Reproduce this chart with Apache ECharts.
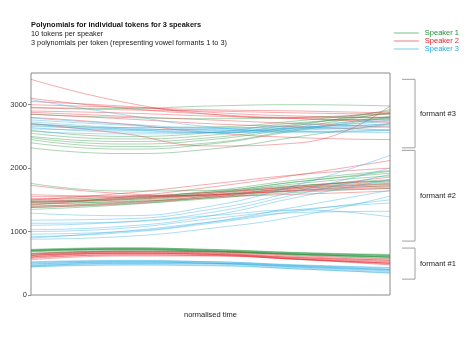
<!DOCTYPE html>
<html>
<head>
<meta charset="utf-8">
<script src="https://cdn.jsdelivr.net/npm/echarts@6/dist/echarts.min.js"></script>
<style>
  html, body { margin: 0; padding: 0; background: #fff; }
  #chart { width: 474px; height: 343px; }
</style>
</head>
<body>
<div id="chart"></div>
<script>
// Normalised time at which each token polynomial is sampled
const timePoints = [0, 0.25, 0.5, 0.75, 1];

const speakers = ['Speaker 1', 'Speaker 2', 'Speaker 3'];
const speakerColors = ['#25903a', '#e3262e', '#27a8e0'];

// Formant 1 (Hz), 10 tokens per speaker
const speaker1F1 = [
  [700, 730, 700, 650, 610], [690, 720, 690, 640, 600], [720, 745, 715, 665, 625],
  [680, 710, 690, 650, 620], [710, 725, 700, 640, 590], [655, 695, 680, 630, 575],
  [700, 720, 690, 640, 600], [690, 730, 710, 660, 630], [640, 690, 680, 640, 600],
  [710, 740, 720, 670, 640]
];
const speaker2F1 = [
  [620, 660, 650, 580, 520], [600, 650, 640, 570, 500], [645, 675, 665, 605, 545],
  [575, 635, 625, 565, 505], [620, 680, 660, 590, 530], [590, 630, 620, 560, 485],
  [655, 690, 680, 620, 565], [600, 660, 640, 560, 475], [555, 615, 615, 560, 500],
  [630, 660, 640, 590, 550]
];
const speaker3F1 = [
  [485, 520, 500, 440, 390], [460, 495, 485, 425, 365], [505, 535, 525, 465, 410],
  [445, 480, 470, 410, 350], [525, 545, 525, 475, 435], [470, 510, 500, 450, 400],
  [440, 470, 460, 410, 345], [490, 520, 500, 440, 380], [515, 535, 515, 455, 400],
  [455, 500, 500, 465, 425]
];

// Formant 2 (Hz)
const speaker1F2 = [
  [1760, 1640, 1650, 1790, 1950], [1460, 1500, 1600, 1760, 1880], [1430, 1480, 1580, 1720, 1820],
  [1400, 1450, 1560, 1700, 1780], [1480, 1520, 1640, 1820, 1960], [1350, 1420, 1540, 1680, 1750],
  [1500, 1540, 1620, 1730, 1800], [1440, 1470, 1530, 1620, 1680], [1380, 1430, 1520, 1650, 1720],
  [1470, 1510, 1620, 1790, 1920]
];
const speaker2F2 = [
  [1730, 1600, 1560, 1590, 1640], [1500, 1600, 1750, 1900, 2000], [1420, 1540, 1700, 1900, 2120],
  [1480, 1520, 1600, 1720, 1800], [1550, 1560, 1620, 1700, 1760], [1400, 1460, 1560, 1700, 1860],
  [1520, 1540, 1580, 1640, 1680], [1460, 1500, 1580, 1680, 1740], [1380, 1440, 1540, 1660, 1720],
  [1580, 1560, 1580, 1650, 1700]
];
const speaker3F2 = [
  [1290, 1250, 1400, 1750, 2200], [1180, 1200, 1350, 1650, 2000], [1100, 1150, 1300, 1600, 1900],
  [1030, 1080, 1250, 1550, 1820], [960, 1000, 1150, 1400, 1650], [920, 980, 1130, 1330, 1500],
  [880, 920, 1050, 1250, 1560], [1000, 1050, 1200, 1350, 1450], [900, 1000, 1150, 1300, 1320],
  [1130, 1150, 1250, 1340, 1230]
];

// Formant 3 (Hz)
const speaker1F3 = [
  [2960, 2940, 2980, 3000, 2980], [2480, 2380, 2450, 2650, 2880], [2450, 2340, 2400, 2620, 2820],
  [2400, 2300, 2380, 2600, 2800], [2320, 2230, 2300, 2500, 2700], [2500, 2420, 2480, 2680, 2920],
  [2550, 2460, 2520, 2700, 2860], [2600, 2500, 2560, 2720, 2780], [2850, 2800, 2780, 2800, 2860],
  [2700, 2640, 2650, 2750, 2900]
];
const speaker2F3 = [
  [3400, 3050, 2850, 2780, 2760], [3100, 2950, 2850, 2800, 2800], [2950, 2920, 2900, 2870, 2850],
  [2900, 2870, 2820, 2780, 2720], [2800, 2700, 2560, 2480, 2450], [2700, 2550, 2350, 2400, 2980],
  [3000, 2960, 2920, 2900, 2870], [2880, 2820, 2760, 2700, 2650], [2850, 2780, 2700, 2650, 2600],
  [3050, 2980, 2880, 2820, 2800]
];
const speaker3F3 = [
  [3080, 2850, 2650, 2580, 2600], [2790, 2700, 2640, 2650, 2700], [2730, 2640, 2600, 2640, 2760],
  [2680, 2600, 2580, 2620, 2700], [2640, 2570, 2560, 2600, 2650], [2620, 2600, 2620, 2680, 2780],
  [2700, 2620, 2560, 2560, 2600], [2760, 2680, 2620, 2620, 2680], [2580, 2540, 2560, 2640, 2740],
  [2660, 2620, 2600, 2580, 2560]
];

// Extent covered by each formant bracket (Hz)
const formantLabels = ['formant #1', 'formant #2', 'formant #3'];
const formantRanges = [[250, 740], [850, 2280], [2320, 3400]];

const yTicks = { min: 0, max: 3500, interval: 1000 };

const tokensBySpeaker = [
  [speaker1F1, speaker1F2, speaker1F3],
  [speaker2F1, speaker2F2, speaker2F3],
  [speaker3F1, speaker3F2, speaker3F3]
];

const FONT = 'Liberation Sans, Arial, sans-serif';

const series = [];
tokensBySpeaker.forEach((formants, s) => {
  formants.forEach(tokens => {
    tokens.forEach(values => {
      series.push({
        name: speakers[s],
        type: 'line',
        smooth: 0.5,
        showSymbol: false,
        silent: true,
        animation: false,
        data: values.map((v, i) => [timePoints[i], v]),
        lineStyle: { color: speakerColors[s], width: 0.7, opacity: 0.55 },
        itemStyle: { color: speakerColors[s] }
      });
    });
  });
});

const chart = echarts.init(document.getElementById('chart'), null, { renderer: 'canvas' });

chart.setOption({
  animation: false,
  backgroundColor: '#fff',
  title: {
    left: 31, top: 20.5,
    text: 'Polynomials for individual tokens for 3 speakers',
    subtext: '10 tokens per speaker\n3 polynomials per token (representing vowel formants 1 to 3)',
    itemGap: 0,
    padding: 0,
    textStyle: { fontFamily: FONT, fontSize: 7.4, fontWeight: 'bold', color: '#111', lineHeight: 9 },
    subtextStyle: { fontFamily: FONT, fontSize: 7.3, color: '#222', lineHeight: 9.3 }
  },
  legend: {
    orient: 'vertical',
    right: 15, top: 29,
    padding: 0,
    itemGap: 0,
    itemWidth: 25,
    itemHeight: 1,
    icon: 'rect',
    data: speakers.map((n, i) => ({
      name: n,
      itemStyle: { color: speakerColors[i], opacity: 0.6 },
      textStyle: { color: speakerColors[i] }
    })),
    textStyle: { fontFamily: FONT, fontSize: 7.5, lineHeight: 7.8, padding: [0, 0, 0, 1] }
  },
  grid: {
    left: 31, right: 84, top: 73, bottom: 48,
    outerBoundsMode: 'none',
    containLabel: false,
    show: true, borderColor: '#8a8a8a', borderWidth: 1, backgroundColor: 'transparent'
  },
  xAxis: {
    type: 'value', min: 0, max: 1,
    name: 'normalised time', nameLocation: 'middle', nameGap: 16,
    nameTextStyle: { fontFamily: FONT, fontSize: 7.5, color: '#222' },
    axisLine: { show: false }, axisTick: { show: false },
    axisLabel: { show: false }, splitLine: { show: false }
  },
  yAxis: {
    type: 'value', min: yTicks.min, max: yTicks.max, interval: yTicks.interval,
    name: 'Hz', nameLocation: 'middle', nameGap: 21,
    nameTextStyle: { fontFamily: FONT, fontSize: 7.5, color: '#222' },
    axisLine: { show: false },
    axisTick: { show: true, length: 3, lineStyle: { color: '#8a8a8a' } },
    axisLabel: {
      fontFamily: FONT, fontSize: 7.5, color: '#333', margin: 4,
      showMaxLabel: false,
      formatter: v => (v % yTicks.interval === 0 ? String(v) : '')
    },
    splitLine: { show: false }
  },
  series: series
});

// Brackets to the right of the plot marking each formant's band
const bracketX = 415, bracketTick = 13, bracketColor = '#a0a0a0';
const graphics = formantRanges.map((r, i) => {
  const yTop = chart.convertToPixel({ yAxisIndex: 0 }, r[1]);
  const yBot = chart.convertToPixel({ yAxisIndex: 0 }, r[0]);
  return {
    type: 'group',
    silent: true,
    children: [
      {
        type: 'polyline',
        shape: { points: [[bracketX - bracketTick, yTop], [bracketX, yTop], [bracketX, yBot], [bracketX - bracketTick, yBot]] },
        style: { stroke: bracketColor, lineWidth: 1, fill: null }
      },
      {
        type: 'text',
        x: bracketX + 5, y: (yTop + yBot) / 2,
        style: {
          text: formantLabels[i], fill: '#222',
          font: '7.5px ' + FONT, verticalAlign: 'middle', align: 'left'
        }
      }
    ]
  };
});
chart.setOption({ graphic: graphics });
</script>
</body>
</html>
